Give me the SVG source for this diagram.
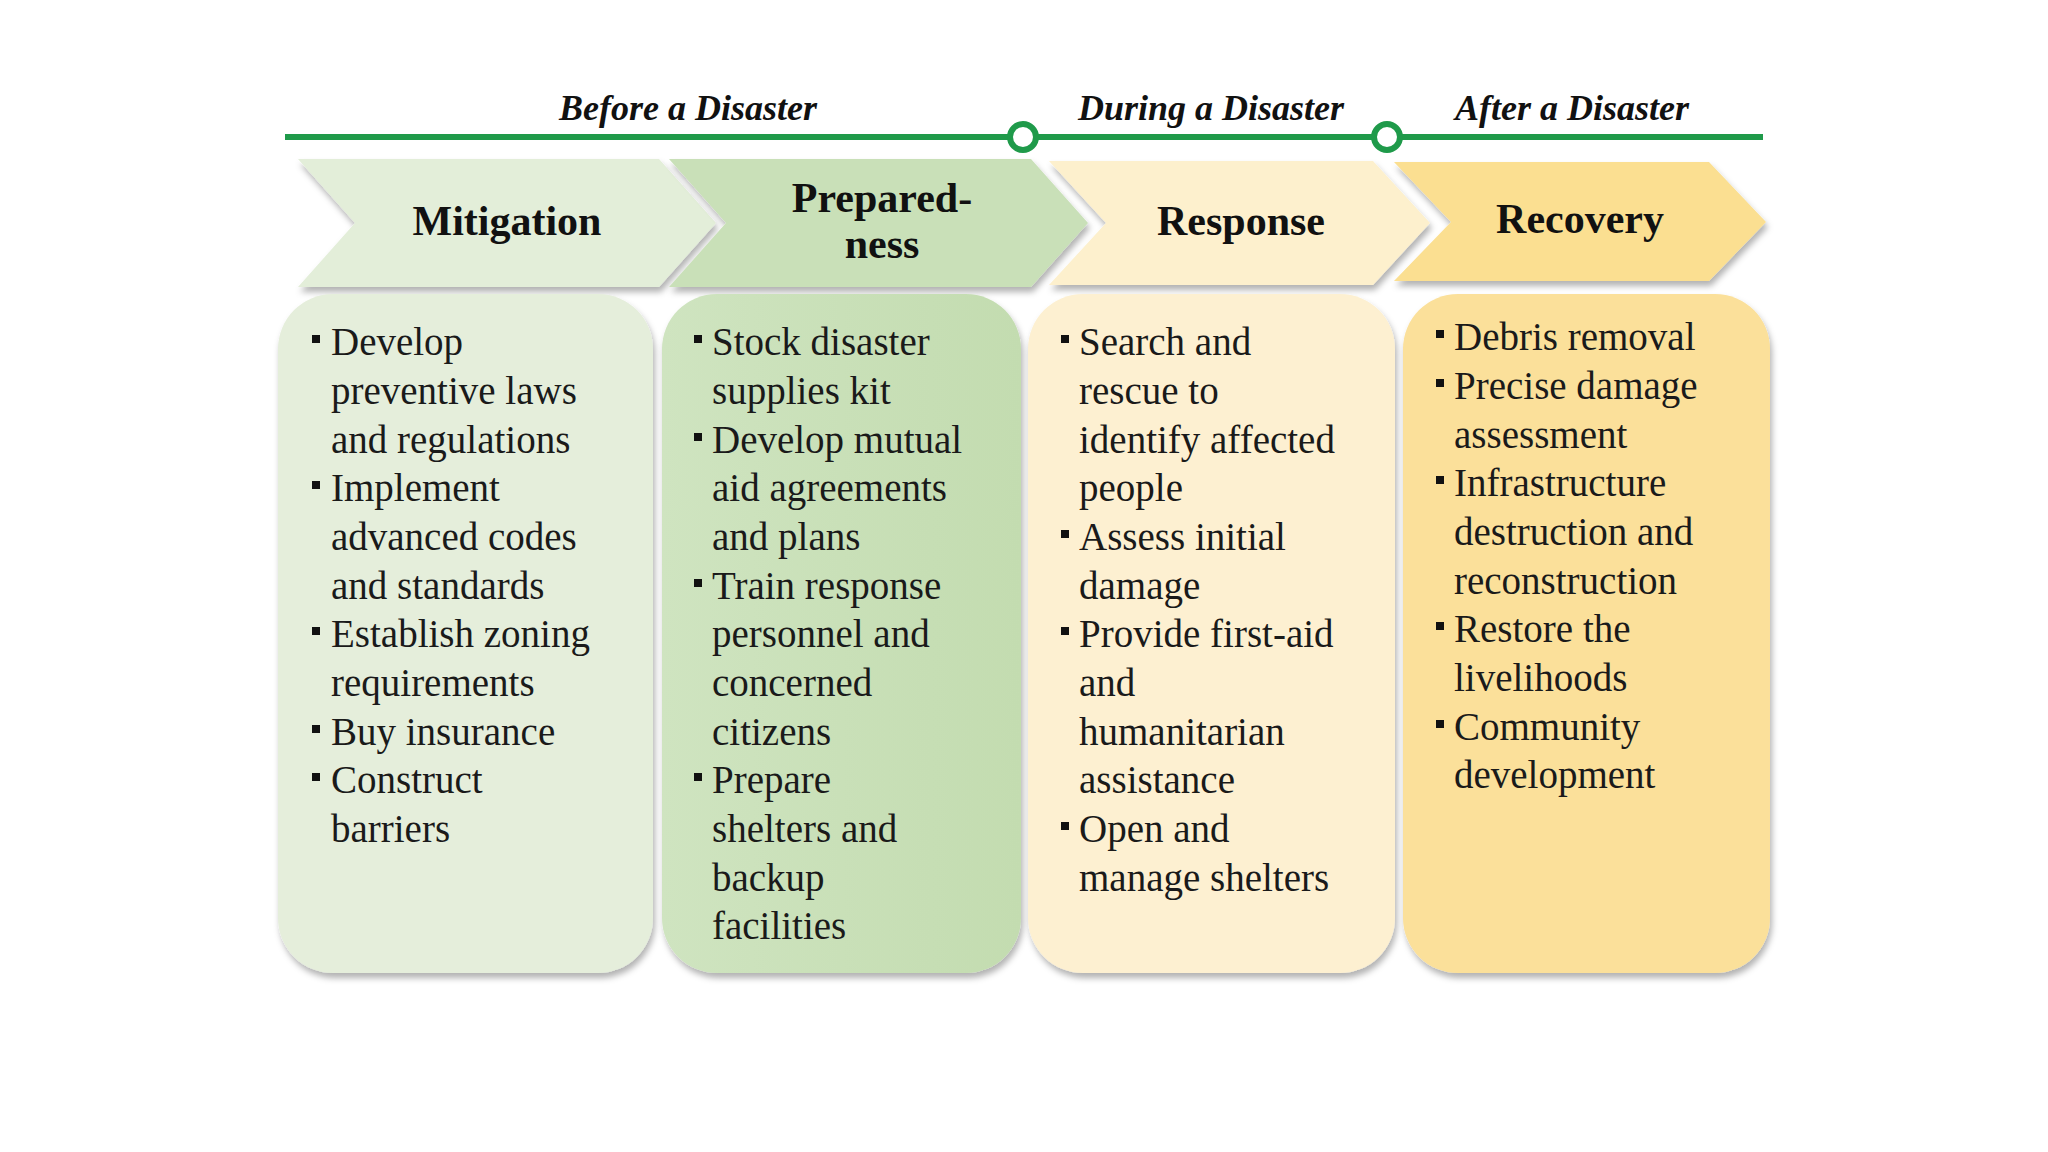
<svg xmlns="http://www.w3.org/2000/svg" width="2048" height="1152" viewBox="0 0 2048 1152">
<defs>
<filter id="sh" x="-10%" y="-10%" width="120%" height="120%"><feDropShadow dx="2" dy="5" stdDeviation="3" flood-color="#000" flood-opacity="0.3"/></filter>
<linearGradient id="g2" x1="0" y1="0" x2="1" y2="0"><stop offset="0" stop-color="#cfe4c0"/><stop offset="1" stop-color="#c3dcb0"/></linearGradient>
</defs>
<style>
.ph{font-family:"Liberation Serif",serif;font-weight:bold;font-style:italic;font-size:36px;fill:#111;text-anchor:middle}
.t{font-family:"Liberation Serif",serif;font-weight:bold;font-size:42px;fill:#111;text-anchor:middle}
.b{font-family:"Liberation Serif",serif;font-size:39px;fill:#1a1a1a}
.bl{fill:#111}
</style>
<rect width="2048" height="1152" fill="#fff"/>
<g id="timeline">
<line x1="285" y1="137" x2="1763" y2="137" stroke="#1f9a4a" stroke-width="6"/>
<circle cx="1023" cy="137" r="13" fill="#fff" stroke="#1f9a4a" stroke-width="6"/>
<circle cx="1387" cy="137" r="13" fill="#fff" stroke="#1f9a4a" stroke-width="6"/>
<text class="ph" x="688" y="120">Before a Disaster</text>
<text class="ph" x="1211" y="120">During a Disaster</text>
<text class="ph" x="1572" y="120">After a Disaster</text>
</g>
<g id="mitigation">
<polygon points="298,159 659,159 716,223 659,287 298,287 355,223" fill="#e3eed9" filter="url(#sh)"/>
<text class="t" x="507" y="235">Mitigation</text>
<rect x="278" y="294" width="375" height="679" rx="55" fill="#e5eedb" filter="url(#sh)"/>
<g class="b">
<text x="331" y="355">Develop</text><text x="331" y="404">preventive laws</text><text x="331" y="453">and regulations</text>
<text x="331" y="501">Implement</text><text x="331" y="550">advanced codes</text><text x="331" y="599">and standards</text>
<text x="331" y="647">Establish zoning</text><text x="331" y="696">requirements</text>
<text x="331" y="745">Buy insurance</text>
<text x="331" y="793">Construct</text><text x="331" y="842">barriers</text>
</g>
<g class="bl"><rect x="312" y="335" width="8" height="8"/><rect x="312" y="481" width="8" height="8"/><rect x="312" y="627" width="8" height="8"/><rect x="312" y="725" width="8" height="8"/><rect x="312" y="773" width="8" height="8"/></g>
</g>
<g id="preparedness">
<polygon points="669,159 1031,159 1088,223 1031,287 669,287 726,223" fill="#c9e0b8" filter="url(#sh)"/>
<text class="t" x="882" y="212">Prepared-</text><text class="t" x="882" y="258">ness</text>
<rect x="662" y="294" width="359" height="679" rx="55" fill="url(#g2)" filter="url(#sh)"/>
<g class="b">
<text x="712" y="355">Stock disaster</text><text x="712" y="404">supplies kit</text>
<text x="712" y="453">Develop mutual</text><text x="712" y="501">aid agreements</text><text x="712" y="550">and plans</text>
<text x="712" y="599">Train response</text><text x="712" y="647">personnel and</text><text x="712" y="696">concerned</text><text x="712" y="745">citizens</text>
<text x="712" y="793">Prepare</text><text x="712" y="842">shelters and</text><text x="712" y="891">backup</text><text x="712" y="939">facilities</text>
</g>
<g class="bl"><rect x="694" y="335" width="8" height="8"/><rect x="694" y="433" width="8" height="8"/><rect x="694" y="579" width="8" height="8"/><rect x="694" y="773" width="8" height="8"/></g>
</g>
<g id="response">
<polygon points="1049,161 1373,161 1430,223 1373,285 1049,285 1106,223" fill="#fdf0cd" filter="url(#sh)"/>
<text class="t" x="1241" y="235">Response</text>
<rect x="1028" y="294" width="367" height="679" rx="55" fill="#fdf0d1" filter="url(#sh)"/>
<g class="b">
<text x="1079" y="355">Search and</text><text x="1079" y="404">rescue to</text><text x="1079" y="453">identify affected</text><text x="1079" y="501">people</text>
<text x="1079" y="550">Assess initial</text><text x="1079" y="599">damage</text>
<text x="1079" y="647">Provide first-aid</text><text x="1079" y="696">and</text><text x="1079" y="745">humanitarian</text><text x="1079" y="793">assistance</text>
<text x="1079" y="842">Open and</text><text x="1079" y="891">manage shelters</text>
</g>
<g class="bl"><rect x="1061" y="335" width="8" height="8"/><rect x="1061" y="530" width="8" height="8"/><rect x="1061" y="627" width="8" height="8"/><rect x="1061" y="822" width="8" height="8"/></g>
</g>
<g id="recovery">
<polygon points="1394,162 1709,162 1766,222 1709,281 1394,281 1451,222" fill="#fbdf91" filter="url(#sh)"/>
<text class="t" x="1580" y="233">Recovery</text>
<rect x="1403" y="294" width="367" height="679" rx="55" fill="#fbe09a" filter="url(#sh)"/>
<g class="b">
<text x="1454" y="350">Debris removal</text>
<text x="1454" y="399">Precise damage</text><text x="1454" y="448">assessment</text>
<text x="1454" y="496">Infrastructure</text><text x="1454" y="545">destruction and</text><text x="1454" y="594">reconstruction</text>
<text x="1454" y="642">Restore the</text><text x="1454" y="691">livelihoods</text>
<text x="1454" y="740">Community</text><text x="1454" y="788">development</text>
</g>
<g class="bl"><rect x="1436" y="330" width="8" height="8"/><rect x="1436" y="379" width="8" height="8"/><rect x="1436" y="476" width="8" height="8"/><rect x="1436" y="622" width="8" height="8"/><rect x="1436" y="720" width="8" height="8"/></g>
</g>
</svg>
